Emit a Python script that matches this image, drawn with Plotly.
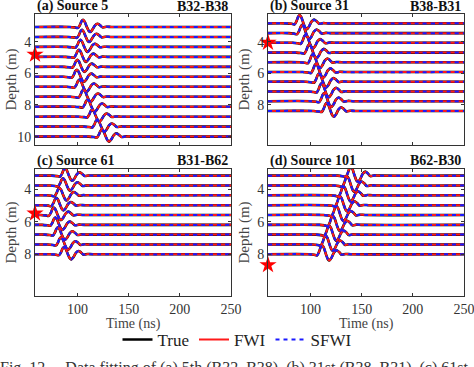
import plotly.graph_objects as go

W, H = 474, 367

# ---------------- data ----------------
# normalised wavelet template: time relative to main peak (ns) and amplitude
wavelet_t = [-13, -8, -5, -3, -1.5, 0, 1.5, 3.5, 5.5, 7, 9, 11.5, 14, 16.5, 19, 23, 28]
wavelet_a = [0, -0.06, -0.12, 0.3, 0.8, 1.0, 0.75, 0.05, -0.55, -0.7, -0.4, 0.2, 0.45, 0.25, -0.05, 0.03, 0]

depths_a = [3.07, 3.70, 4.33, 4.96, 5.59, 6.22, 6.85, 7.48, 8.11, 8.74, 9.37, 10.0]
arrivals_a = [105.5, 104.5, 103, 101.5, 100, 99.5, 102, 106, 110, 114.5, 119.5, 124]

depths_b = [2.84, 3.46, 4.07, 4.69, 5.30, 5.92, 6.53, 7.15, 7.76, 8.38]
arrivals_b = [89.5, 92, 95.5, 99, 102.5, 105.5, 108.5, 111, 113.5, 116]

depths_c = [3.16, 3.77, 4.37, 4.98, 5.58, 6.19, 6.79, 7.40, 8.00]
arrivals_c = [88, 86, 82.5, 79.5, 77, 78.5, 81, 84, 87]

depths_d = [3.16, 3.77, 4.37, 4.98, 5.58, 6.19, 6.79, 7.40, 8.00]
arrivals_d = [139.5, 136, 132.5, 129, 125.5, 122, 118.5, 115, 111.5]

amplitudes = [0.45, 0.52, 0.45, 0.55]
sources = [4.81, 4.06, 5.48, 8.66]
titles_left = ["(a) Source 5", "(b) Source 31", "(c) Source 61", "(d) Source 101"]
titles_right = ["B32-B38", "B38-B31", "B31-B62", "B62-B30"]
yticks = [[4, 6, 8, 10], [4, 6, 8], [4, 6, 8], [4, 6, 8]]
xticks = [100, 150, 200, 250]
t_min, t_max = 58.5, 250

series_names = ["True", "FWI", "SFWI"]
series_colors = ["#000000", "#ff1a1a", "#1a1aff"]

# ---------------- layout geometry (pixels) ----------------
boxes = [  # x0, x1, y0(top), y1(bottom)
    (35, 231, 14, 145),
    (268, 464, 14, 145),
    (35, 231, 169, 296),
    (268, 464, 169, 296),
]
yranges = [(10.53, 2.25), (10.53, 2.25), (10.57, 2.75), (10.57, 2.75)]

panels = [(depths_a, arrivals_a), (depths_b, arrivals_b), (depths_c, arrivals_c), (depths_d, arrivals_d)]

FONT = "Liberation Serif, Times New Roman, DejaVu Serif, serif"
fig = go.Figure()
layout = dict(width=W, height=H, margin=dict(l=0, r=0, t=0, b=0, autoexpand=False),
              template="none",
              paper_bgcolor="white", plot_bgcolor="white",
              font=dict(family=FONT, size=14, color="#222"))
annotations = []

for i, ((depths, arrivals), box) in enumerate(zip(panels, boxes)):
    n = i + 1
    xa = "x" if n == 1 else f"x{n}"
    ya = "y" if n == 1 else f"y{n}"
    x0, x1, y0, y1 = box
    amp = amplitudes[i]
    xs, ys = [], []
    for d, t0 in zip(depths, arrivals):
        xs += [t_min] + [t0 + rt for rt in wavelet_t] + [t_max, None]
        ys += [d] + [d - amp * a for a in wavelet_a] + [d, None]
    for s, (name, col) in enumerate(zip(series_names, series_colors)):
        if s == 0:
            line = dict(color=col, width=2.6, shape="spline", smoothing=0.8)
        elif s == 1:
            line = dict(color=col, width=2.0, shape="spline", smoothing=0.8)
        else:
            line = dict(color=col, width=2.0, dash="4px,4px", shape="spline", smoothing=0.8)
        fig.add_trace(go.Scatter(x=xs, y=ys, mode="lines", line=line, name=name,
                                 showlegend=(i == 0), legendrank=s + 1,
                                 xaxis=xa, yaxis=ya, hoverinfo="skip"))
    # source star
    fig.add_trace(go.Scatter(x=[t_min], y=[sources[i]], mode="markers",
                             marker=dict(symbol="star", size=13, color="#ff0000",
                                         line=dict(width=0)),
                             cliponaxis=False, showlegend=False, xaxis=xa, yaxis=ya,
                             hoverinfo="skip"))
    bottom = i >= 2
    axkey_x = "xaxis" if n == 1 else f"xaxis{n}"
    axkey_y = "yaxis" if n == 1 else f"yaxis{n}"
    layout[axkey_x] = dict(domain=[x0 / W, x1 / W], range=[t_min, t_max], anchor=ya,
                           tickvals=xticks, showticklabels=bottom, automargin=False,
                           ticklabeloverflow="allow",
                           ticks="inside", ticklen=3, tickcolor="#333",
                           showline=True, linecolor="#333", linewidth=1, mirror="allticks",
                           showgrid=False, zeroline=False,
                           tickfont=dict(family=FONT, size=14, color="#333"))
    layout[axkey_y] = dict(domain=[1 - y1 / H, 1 - y0 / H], range=list(yranges[i]), anchor=xa,
                           tickvals=yticks[i], ticks="inside", ticklen=3, tickcolor="#333",
                           showline=True, linecolor="#333", linewidth=1, mirror="allticks",
                           showgrid=False, zeroline=False, automargin=False,
                           ticklabeloverflow="allow",
                           tickfont=dict(family=FONT, size=14, color="#333"))
    ty = 1 - (y0 - 8) / H
    annotations.append(dict(text="<b>" + titles_left[i] + "</b>", xref="paper", yref="paper",
                            x=x0 / W, y=ty, xanchor="left", yanchor="middle", showarrow=False,
                            font=dict(family=FONT, size=14, color="#111")))
    annotations.append(dict(text="<b>" + titles_right[i] + "</b>", xref="paper", yref="paper",
                            x=(x1 - 1) / W, y=ty, xanchor="right", yanchor="middle", showarrow=False,
                            font=dict(family=FONT, size=14, color="#111")))
    annotations.append(dict(text="Depth (m)", xref="paper", yref="paper", textangle=-90,
                            x=(x0 - 24) / W, y=1 - ((y0 + y1) / 2) / H, xanchor="center",
                            yanchor="middle", showarrow=False,
                            font=dict(family=FONT, size=15, color="#444")))
    if bottom:
        annotations.append(dict(text="Time (ns)", xref="paper", yref="paper",
                                x=((x0 + x1) / 2) / W, y=1 - 324 / H, xanchor="center",
                                yanchor="middle", showarrow=False,
                                font=dict(family=FONT, size=14, color="#444")))

annotations.append(dict(text="Fig. 12.    Data fitting of (a) 5th (B32–B38), (b) 31st (B38–B31), (c) 61st",
                        xref="paper", yref="paper", x=-0.005, y=1 - 368 / H, xanchor="left",
                        yanchor="middle", showarrow=False,
                        font=dict(family=FONT, size=16, color="#333")))

layout["annotations"] = annotations
layout["legend"] = dict(orientation="h", x=0.5, xanchor="center", y=1 - 340 / H, yanchor="middle",
                        bgcolor="rgba(0,0,0,0)", borderwidth=0,
                        font=dict(family=FONT, size=17, color="#222"),
                        itemwidth=30, tracegroupgap=0)
layout["showlegend"] = True
fig.update_layout(**layout)
fig.write_html("out.html", config={"displayModeBar": False},
               post_script="document.body.style.margin='0';document.body.style.overflow='hidden';")
